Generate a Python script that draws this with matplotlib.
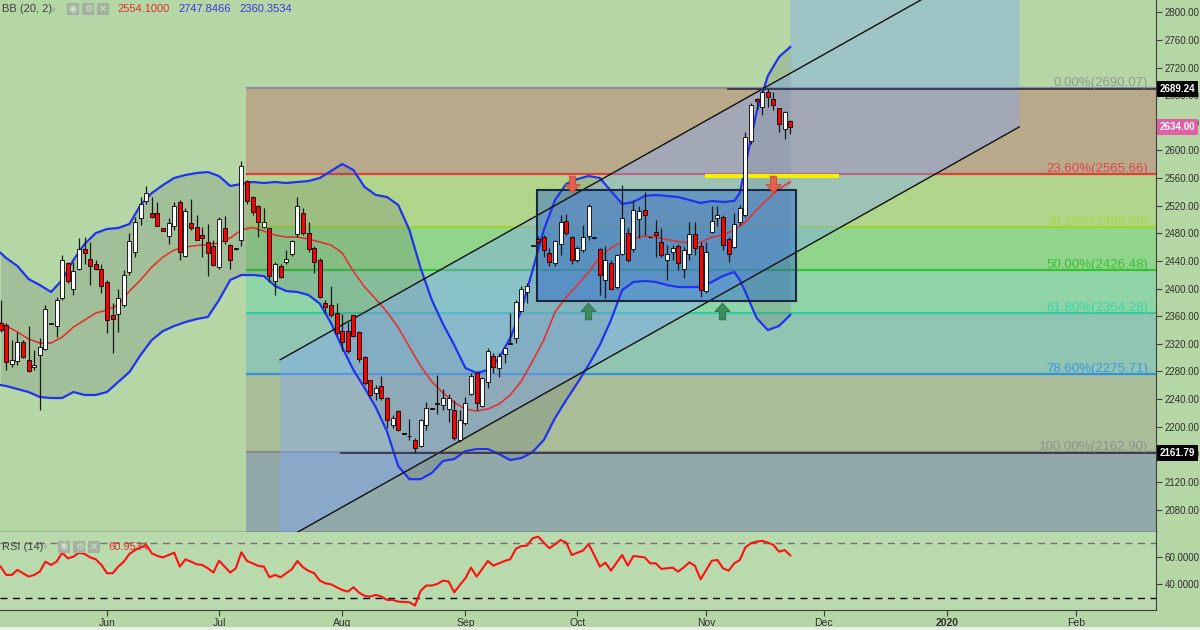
import matplotlib
matplotlib.use('Agg')
import matplotlib.pyplot as plt
import matplotlib.transforms as mtransforms
from matplotlib.patches import Rectangle, Polygon
from matplotlib.path import Path

plt.rcParams['font.family'] = ['Liberation Sans', 'DejaVu Sans']

# ---------------- data ----------------
opens = [2350, 2347, 2291, 2295, 2322, 2296, 2287, 2304, 2313, 2349,
         2346, 2386, 2437, 2400, 2429, 2457, 2443, 2435, 2428, 2409,
         2361, 2363, 2376, 2424, 2453, 2502, 2527, 2509, 2509, 2487,
         2476, 2491, 2525, 2447, 2495, 2489, 2477, 2468, 2461, 2431,
         2488, 2463, 2457, 2471, 2556, 2533, 2519, 2489, 2487, 2411,
         2433, 2439, 2450, 2479, 2509, 2480, 2459, 2441, 2379, 2376,
         2365, 2338, 2338, 2361, 2337, 2301, 2267, 2249, 2259, 2242,
         2203, 2222, 2191, 2187, 2180, 2172, 2203, 2227, 2234, 2231,
         2226, 2224, 2180, 2205, 2248, 2277, 2230, 2264, 2303, 2285,
         2305, 2321, 2329, 2368, 2395, 2462, 2472, 2475, 2452, 2437,
         2464, 2498, 2475, 2441, 2456, 2476, 2473, 2457, 2413, 2437,
         2402, 2450, 2481, 2457, 2501, 2514, 2474, 2482, 2468, 2442,
         2453, 2462, 2428, 2450, 2479, 2462, 2396, 2482, 2502, 2504,
         2472, 2460, 2496, 2507, 2613, 2674, 2663, 2684, 2675, 2661,
         2631, 2642]
highs = [2383, 2350, 2325, 2337, 2325, 2346, 2311, 2328, 2376, 2350,
         2388, 2449, 2439, 2439, 2473, 2475, 2468, 2441, 2436, 2412,
         2379, 2400, 2427, 2480, 2504, 2533, 2549, 2533, 2526, 2488,
         2502, 2526, 2528, 2516, 2529, 2506, 2489, 2494, 2470, 2503,
         2505, 2464, 2458, 2585, 2557, 2534, 2521, 2516, 2488, 2439,
         2436, 2456, 2471, 2533, 2516, 2497, 2461, 2444, 2383, 2403,
         2379, 2363, 2352, 2362, 2339, 2302, 2268, 2260, 2273, 2243,
         2217, 2224, 2191, 2211, 2183, 2211, 2236, 2227, 2275, 2255,
         2248, 2239, 2224, 2243, 2278, 2280, 2272, 2314, 2306, 2306,
         2316, 2365, 2383, 2403, 2408, 2463, 2476, 2478, 2458, 2470,
         2507, 2508, 2476, 2461, 2492, 2522, 2474, 2458, 2461, 2441,
         2450, 2550, 2487, 2528, 2519, 2540, 2475, 2499, 2487, 2463,
         2463, 2465, 2460, 2497, 2497, 2468, 2468, 2520, 2519, 2507,
         2475, 2509, 2521, 2626, 2668, 2676, 2688, 2689.2, 2684, 2662,
         2657, 2644]
lows = [2337, 2282, 2287, 2289, 2299, 2279, 2282, 2224, 2311, 2348,
        2330, 2383, 2408, 2390, 2427, 2436, 2405, 2427, 2393, 2335,
        2306, 2337, 2374, 2420, 2445, 2492, 2523, 2502, 2490, 2483,
        2465, 2485, 2441, 2445, 2485, 2470, 2445, 2418, 2432, 2429,
        2465, 2429, 2456, 2462, 2523, 2506, 2475, 2487, 2410, 2390,
        2415, 2436, 2447, 2475, 2478, 2453, 2422, 2386, 2364, 2359,
        2333, 2309, 2306, 2330, 2294, 2260, 2243, 2239, 2239, 2198,
        2198, 2194, 2190, 2181, 2161.8, 2171, 2195, 2226, 2219, 2224,
        2207, 2181, 2178, 2202, 2246, 2224, 2229, 2256, 2277, 2272,
        2292, 2320, 2321, 2367, 2379, 2461, 2465, 2446, 2432, 2432,
        2449, 2477, 2435, 2439, 2453, 2470, 2472, 2391, 2386, 2399,
        2400, 2449, 2439, 2453, 2473, 2478, 2473, 2446, 2446, 2412,
        2441, 2427, 2415, 2441, 2449, 2388, 2393, 2481, 2490, 2456,
        2439, 2458, 2492, 2503, 2610, 2660, 2651, 2663, 2658, 2626,
        2616, 2624]
closes = [2340, 2294, 2297, 2323, 2301, 2280, 2290, 2316, 2371, 2349,
          2383, 2442, 2411, 2425, 2457, 2451, 2433, 2428, 2404, 2354,
          2356, 2387, 2419, 2469, 2497, 2523, 2539, 2503, 2491, 2484,
          2495, 2520, 2453, 2512, 2487, 2471, 2473, 2451, 2434, 2501,
          2469, 2441, 2457, 2577, 2527, 2511, 2496, 2496, 2418, 2435,
          2416, 2443, 2469, 2519, 2480, 2457, 2439, 2388, 2373, 2362,
          2335, 2323, 2309, 2331, 2298, 2263, 2246, 2256, 2241, 2210,
          2212, 2195, 2190, 2186, 2169, 2209, 2227, 2226, 2233, 2242,
          2241, 2183, 2210, 2234, 2273, 2234, 2270, 2309, 2286, 2303,
          2314, 2320, 2381, 2400, 2404, 2462, 2468, 2456, 2439, 2469,
          2496, 2480, 2442, 2458, 2474, 2520, 2473, 2420, 2442, 2400,
          2448, 2502, 2442, 2514, 2512, 2507, 2474, 2478, 2449, 2450,
          2458, 2437, 2456, 2479, 2458, 2398, 2453, 2498, 2507, 2463,
          2450, 2493, 2516, 2620, 2666, 2671, 2684, 2678, 2666, 2638,
          2656, 2634]
first_bar = -19   # bar index of the first candle (trading days from 3 Jun)

bb_idx = [-19, -18, -16, -14, -12, -10, -8, -6, -4, -2, 0, 2, 4, 6, 8, 10, 12, 14, 16, 18,
          20, 22, 24, 26, 28, 30, 32, 34, 36, 38, 40, 42, 44, 46, 48, 50, 52, 54, 56, 58,
          60, 62, 64, 66, 68, 70, 72, 74, 76, 78, 80, 82, 84, 86, 88, 90, 92, 94, 96, 98,
          100, 102, 104, 106, 108, 110, 112, 113, 114, 116, 118, 120, 122]
bb_upper = [2451.5, 2444.2, 2432.6, 2413.8, 2405.1, 2395.0, 2412.4, 2441.3, 2464.5, 2480.4,
            2486.2, 2487.7, 2493.4, 2521.0, 2538.3, 2549.9, 2560.1, 2564.4, 2567.3, 2568.7,
            2562.9, 2548.5, 2551.4, 2554.3, 2552.8, 2554.3, 2552.8, 2554.3, 2555.7, 2560.1,
            2570.2, 2580.3, 2571.6, 2547.0, 2535.5, 2532.5, 2521.0, 2484.8, 2429.7, 2383.4,
            2348.6, 2318.2, 2284.9, 2277.7, 2282.0, 2299.4, 2328.4, 2368.9, 2426.8, 2484.8,
            2528.2, 2551.4, 2558.6, 2562.9, 2560.1, 2541.2, 2522.4, 2525.3, 2534.0, 2535.5,
            2534.0, 2532.5, 2528.2, 2523.9, 2526.8, 2525.3, 2526.8, 2538.3, 2578.9, 2655.6,
            2707.8, 2735.3, 2749.8]
bb_mid = [2350.1, 2345.8, 2337.1, 2327.0, 2321.1, 2321.1, 2329.8, 2344.3, 2354.4, 2364.6,
          2368.9, 2376.2, 2396.4, 2412.4, 2431.2, 2445.7, 2455.8, 2460.2, 2462.3, 2463.8,
          2465.9, 2473.2, 2484.8, 2488.4, 2483.3, 2477.5, 2474.6, 2474.6, 2471.7, 2467.4,
          2463.0, 2451.5, 2424.8, 2402.2, 2384.8, 2366.0, 2343.6, 2315.3, 2287.8, 2265.2,
          2248.7, 2235.0, 2225.6, 2222.7, 2225.6, 2232.8, 2245.8, 2266.1, 2295.1, 2325.5,
          2366.0, 2387.7, 2405.1, 2424.0, 2445.7, 2458.7, 2467.4, 2472.5, 2476.1, 2474.6,
          2471.0, 2468.1, 2465.9, 2466.7, 2474.6, 2477.5, 2484.8, 2490.5, 2496.3, 2513.7,
          2529.7, 2544.1, 2554.3]
bb_lower = [2260.3, 2258.9, 2254.5, 2250.2, 2243.0, 2241.5, 2241.5, 2250.2, 2245.9, 2245.9,
            2250.2, 2264.7, 2279.1, 2303.8, 2325.5, 2338.5, 2345.8, 2351.5, 2355.9, 2358.8,
            2383.4, 2412.4, 2419.6, 2419.6, 2418.2, 2403.7, 2396.4, 2395.0, 2390.6, 2378.0,
            2350.0, 2315.0, 2282.0, 2256.0, 2228.0, 2193.0, 2143.0, 2124.0, 2124.0, 2133.0,
            2150.3, 2153.2, 2164.7, 2167.6, 2167.6, 2160.4, 2151.7, 2154.6, 2163.3, 2180.7,
            2212.5, 2238.6, 2263.2, 2289.3, 2318.2, 2354.4, 2397.9, 2409.5, 2410.9, 2409.5,
            2405.1, 2402.2, 2402.2, 2402.2, 2409.5, 2418.2, 2424.0, 2412.4, 2395.0, 2357.3,
            2339.9, 2345.8, 2361.7]

rsi = [52.8, 46.8, 46.8, 50.4, 48.0, 45.6, 46.8, 49.2, 56.4, 54.0,
       56.4, 62.9, 58.8, 60.0, 62.9, 62.0, 59.5, 58.1, 54.0, 48.0,
       48.0, 52.8, 56.4, 62.0, 64.8, 66.8, 68.5, 62.4, 60.5, 59.5,
       61.2, 62.9, 52.8, 58.1, 56.4, 54.5, 54.0, 51.6, 48.5, 57.1,
       52.8, 48.5, 51.6, 63.2, 56.9, 55.2, 53.3, 52.8, 45.1, 46.8,
       45.1, 48.0, 50.9, 56.9, 52.3, 49.7, 48.0, 42.7, 40.7, 40.0,
       37.9, 35.9, 34.7, 37.9, 34.0, 31.6, 31.1, 32.3, 31.1, 28.7,
       28.7, 27.5, 27.2, 27.0, 24.6, 35.2, 39.1, 39.1, 40.3, 42.7,
       42.0, 34.2, 39.5, 44.4, 52.1, 45.6, 51.1, 56.9, 53.5, 55.2,
       56.9, 58.1, 65.6, 67.7, 68.0, 73.3, 74.5, 70.2, 66.1, 68.9,
       72.1, 70.2, 61.2, 62.9, 64.4, 69.2, 61.2, 52.8, 55.7, 49.9,
       55.7, 61.2, 53.5, 60.5, 60.0, 59.5, 55.2, 55.2, 51.1, 51.6,
       52.1, 49.2, 52.3, 55.9, 53.3, 43.6, 50.4, 57.1, 57.6, 51.6,
       49.9, 55.2, 57.6, 66.8, 69.7, 70.9, 71.4, 70.2, 68.5, 63.6,
       64.8, 61.0]

month_pos = [0, 20, 42, 64, 84, 107, 128, 150, 173]
month_labels = ['Jun', 'Jul', 'Aug', 'Sep', 'Oct', 'Nov', 'Dec', '2020', 'Feb']
price_ticks = list(range(2080, 2801, 40))

fib_pcts = ['0.00%', '23.60%', '38.20%', '50.00%', '61.80%', '78.60%', '100.00%']
fib_levels = [2690.07, 2565.66, 2488.69, 2426.48, 2364.28, 2275.71, 2162.90]
fib_start = 24.8
last_high, last_low, last_close = 2689.24, 2161.79, 2634.00
high_line_from, low_line_from = 110.9, 41.8

chan_x0, chan_x1 = 30.9, 162.9
chan_upper0, chan_slope, chan_width = 2296.8, 4.553, 263.8
chan_fill_cut = 122.0

box_x0, box_x1, box_lo, box_hi = 76.8, 123.0, 2382.0, 2542.7
yellow_x0, yellow_x1, yellow_y = 106.8, 130.7, 2563.4
red_arrow_x, red_arrow_y = [83.0, 118.9], [2551.0, 2551.0]
green_arrow_x, green_arrow_y = [85.9, 109.8], [2367.0, 2367.0]

# ---------------- figure ----------------
W, H = 1200, 630
BG = '#b5d7a6'
fig = plt.figure(figsize=(12, 6.3), dpi=100, facecolor=BG)
ax = fig.add_axes([0, 98 / H, 1156 / W, 532 / H], facecolor=BG)
rax = fig.add_axes([0, 20 / H, 1156 / W, 78 / H], facecolor='#b9daac')

XMIN, XMAX = -19.11, 187.32
YMIN, YMAX = 2047.5, 2817.8
ax.set_xlim(XMIN, XMAX)
ax.set_ylim(YMIN, YMAX)
rax.set_xlim(XMIN, XMAX)
rax.set_ylim(21.4, 77.86)

# fib bands
fib_fill_colors = ['#b9a98b', '#b1d58b', '#90d58b', '#90d5a7', '#90c5b1', '#a9bd99']
for k in range(len(fib_levels) - 1):
    ax.fill_between([fib_start, XMAX], fib_levels[k + 1], fib_levels[k],
                    color=fib_fill_colors[k], lw=0, zorder=1)
ax.fill_between([fib_start, XMAX], YMIN - 50, fib_levels[-1], color='#91a9a9', lw=0, zorder=1)

fib_line_colors = ['#8a8a98', '#e03c3c', '#a2d232', '#32c232', '#32caa2', '#3492da', '#8a8a8a']
fib_text_colors = ['#8f9a8f', '#e04545', '#a8d645', '#38c038', '#3cd2a4', '#3a98e2', '#8f8f8f']
for lev, lc in zip(fib_levels, fib_line_colors):
    ax.plot([fib_start, XMAX], [lev, lev], color=lc, lw=1.6, zorder=2, solid_capstyle='butt')

# Bollinger fill
ax.fill_between(bb_idx, bb_lower, bb_upper, color='#5e6a6a', alpha=0.22, lw=0, zorder=3)

# channel fill
def chan_up(x):
    return chan_upper0 + chan_slope * (x - chan_x0)

poly = [(chan_x0, chan_up(chan_x0)), (chan_fill_cut, chan_up(chan_fill_cut)),
        (chan_fill_cut, YMAX), (chan_x1, YMAX),
        (chan_x1, chan_up(chan_x1) - chan_width), (chan_x0, chan_up(chan_x0) - chan_width)]
ax.add_patch(Polygon(poly, closed=True, fc='#80a8f8', alpha=0.4, lw=0, zorder=4))

# box
ax.add_patch(Rectangle((box_x0, box_lo), box_x1 - box_x0, box_hi - box_lo,
                       fc='#2060d0', alpha=0.42, lw=0, zorder=5))
ax.add_patch(Rectangle((box_x0, box_lo), box_x1 - box_x0, box_hi - box_lo,
                       fc='none', ec='#1c2840', lw=1.5, zorder=9))

# bands
ax.plot(bb_idx, bb_upper, color='#2233ee', lw=1.6, zorder=6)
ax.plot(bb_idx, bb_lower, color='#2233ee', lw=1.6, zorder=6)
ax.plot(bb_idx, bb_mid, color='#e03434', lw=1.2, zorder=6)

# channel lines
ax.plot([chan_x0, chan_x1], [chan_up(chan_x0), chan_up(chan_x1)], color='#101010', lw=1.0, zorder=6)
ax.plot([chan_x0, chan_x1], [chan_up(chan_x0) - chan_width, chan_up(chan_x1) - chan_width],
        color='#101010', lw=1.0, zorder=6)

# high / low lines
ax.plot([high_line_from, XMAX], [last_high, last_high], color='#363648', lw=1.3, zorder=6)
ax.plot([low_line_from, XMAX], [last_low, last_low], color='#363648', lw=1.3, zorder=6)

# yellow line
ax.plot([yellow_x0, yellow_x1], [yellow_y, yellow_y], color='#f4f000', lw=3, zorder=7,
        solid_capstyle='butt')

# candles
n = len(closes)
xs = list(range(first_bar, first_bar + n))
ax.vlines(xs, lows, highs, colors='#181818', lw=0.9, zorder=8)
bottoms = [min(o, c) for o, c in zip(opens, closes)]
heights = [max(abs(c - o), 1.0) for o, c in zip(opens, closes)]
cols = ['#ff0000' if c < o else '#ffffff' for o, c in zip(opens, closes)]
ax.bar(xs, heights, bottom=bottoms, width=0.72, color=cols, edgecolor='#000000',
       linewidth=0.6, zorder=9)

# arrows as markers
def arrow_marker(up=True):
    s = 1 if up else -1
    v = [(-0.19, -0.5 * s), (0.19, -0.5 * s), (0.19, 0.0), (0.45, 0.0), (0.0, 0.5 * s),
         (-0.45, 0.0), (-0.19, 0.0), (-0.19, -0.5 * s)]
    codes = [Path.MOVETO] + [Path.LINETO] * 6 + [Path.CLOSEPOLY]
    return Path(v, codes)

ax.plot(red_arrow_x, red_arrow_y, ls='none', marker=arrow_marker(False), markersize=12,
        mfc='#e2604a', mec='#c44a36', mew=0.6, zorder=10)
ax.plot(green_arrow_x, green_arrow_y, ls='none', marker=arrow_marker(True), markersize=12,
        mfc='#3e8c5e', mec='#2c6c46', mew=0.6, zorder=10)

# fib labels
for pct, lev, tc in zip(fib_pcts, fib_levels, fib_text_colors):
    ax.annotate('%s(%.2f)' % (pct, lev), (185.9, lev), xytext=(0, 1.6), textcoords='offset points',
                ha='right', va='baseline', fontsize=9.5, color=tc, zorder=11)

# axes styling
for a in (ax, rax):
    a.spines['left'].set_visible(False)
    a.spines['top'].set_visible(False)
    a.spines['right'].set_color('#404040')
    a.spines['bottom'].set_color('#404040')
    a.yaxis.set_ticks_position('right')
ax.spines['bottom'].set_linewidth(1.0)
ax.set_yticks(price_ticks)
ax.set_yticklabels(['%.2f' % p for p in price_ticks])
ax.set_xticks([])
ax.tick_params(axis='y', direction='out', length=4, width=0.8, color='#404040',
               labelsize=7, labelcolor='#303030', pad=2)

rax.set_yticks([40, 60])
rax.set_yticklabels(['40.0000', '60.0000'])
rax.tick_params(axis='y', direction='out', length=4, width=0.8, color='#404040',
                labelsize=7, labelcolor='#303030', pad=2)
rax.set_xticks(month_pos)
rax.set_xticklabels(month_labels)
rax.tick_params(axis='x', direction='out', length=4, width=0.8, color='#404040',
                labelsize=7.5, labelcolor='#303030', pad=2)
for t in rax.get_xticklabels():
    if t.get_text() == '2020':
        t.set_fontweight('bold')

# price boxes on right axis
trans_r = mtransforms.blended_transform_factory(ax.transAxes, ax.transData)
def price_box(price, text, fc):
    ax.text(1.0 + 4 / 1156, price, text, transform=trans_r, ha='left', va='center',
            fontsize=7, color='white', fontweight='bold', zorder=20, clip_on=False,
            bbox=dict(boxstyle='square,pad=0.28', fc=fc, ec='none'))

price_box(last_high, '%.2f' % last_high, '#000000')
price_box(last_close, '%.2f' % last_close, '#e060a8')
price_box(last_low, '%.2f' % last_low, '#000000')

# RSI
rsi_x = list(range(first_bar, first_bar + len(rsi)))
rax.axhline(70, color='#707070', lw=1.0, ls=(0, (5, 4)), zorder=2)
rax.axhline(30, color='#000000', lw=1.0, ls=(0, (5, 4)), zorder=2)
rax.plot(rsi_x, rsi, color='#ff1010', lw=1.5, zorder=3)

# header texts
def ftxt(x, y, s, **kw):
    fig.text(x / W, 1 - y / H, s, va='center', ha='left', **kw)

def icons(x0, yc):
    for k, g in enumerate(['\u25c9', '\u2699', '\u2715']):
        x = x0 + k * 15
        fig.add_artist(Rectangle((x / W, 1 - (yc + 6) / H), 12 / W, 12 / H,
                                 transform=fig.transFigure, fc='#a2b29f', ec='none', zorder=30))
        fig.text((x + 6) / W, 1 - yc / H, g, ha='center', va='center', fontsize=7,
                 color='#d4e0d0', family='DejaVu Sans', zorder=31)

ftxt(2, 9, 'BB (20, 2)', fontsize=8, color='#404040')
ftxt(51, 9, '\u25be', fontsize=7, color='#a5b5a3', family='DejaVu Sans')
icons(67, 9)
ftxt(117, 9, '2554.1000', fontsize=8, color='#e03030')
ftxt(178, 9, '2747.8466', fontsize=8, color='#3838e0')
ftxt(239, 9, '2360.3534', fontsize=8, color='#3838e0')

ftxt(2, 546.5, 'RSI (14)', fontsize=8, color='#404040')
ftxt(43, 546.5, '\u25be', fontsize=7, color='#a5b5a3', family='DejaVu Sans')
icons(58, 546.5)
ftxt(108, 546.5, '60.9534', fontsize=8, color='#e03030')

# bottom strip
fig.add_artist(Rectangle((0, 0), 1, 3 / H, transform=fig.transFigure, fc='#ececec', ec='none'))

fig.savefig('out.png', dpi=100, facecolor=BG)
